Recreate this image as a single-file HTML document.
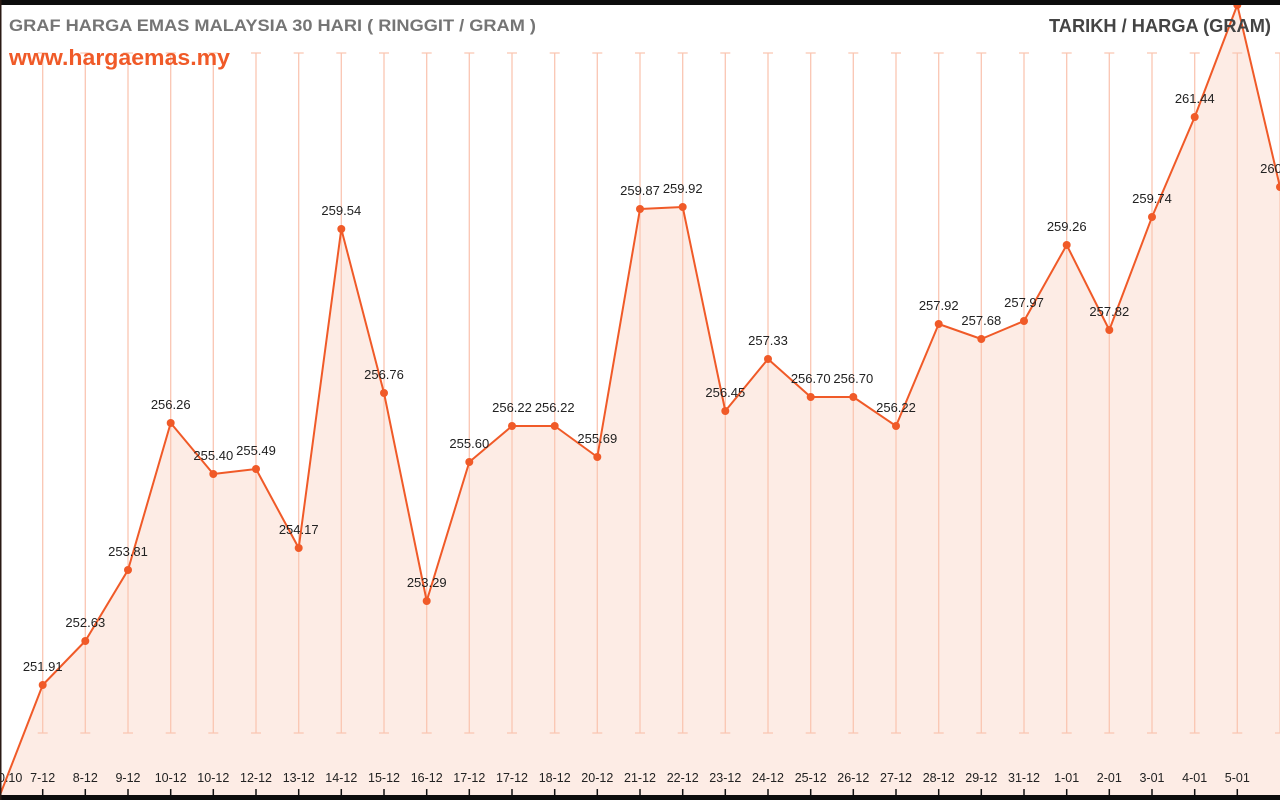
<!DOCTYPE html>
<html><head><meta charset="utf-8"><style>
html,body{margin:0;padding:0;background:#fff;}
svg{display:block;}
text{font-family:"Liberation Sans",Arial,sans-serif;}
</style></head><body>
<svg width="1280" height="800" viewBox="0 0 1280 800" xmlns="http://www.w3.org/2000/svg">
<rect width="1280" height="800" fill="#fff"/>
<polygon fill="#fdece5" points="0,795 0,795 42.7,685 85.3,641 128,570 170.7,423 213.3,474 256,469 298.7,548 341.3,229 384,393 426.7,601 469.3,462 512,426 554.7,426 597.3,457 640,209 682.7,207 725.3,411 768,359 810.7,397 853.3,397 896,426 938.7,324 981.3,339 1024,321 1066.7,245 1109.3,330 1152,217 1194.7,117 1237.3,5 1280,187 1280,795"/>
<g stroke="#fac6b2" stroke-width="1.3" fill="none">
<path d="M42.7 53V733M85.3 53V733M128 53V733M170.7 53V733M213.3 53V733M256 53V733M298.7 53V733M341.3 53V733M384 53V733M426.7 53V733M469.3 53V733M512 53V733M554.7 53V733M597.3 53V733M640 53V733M682.7 53V733M725.3 53V733M768 53V733M810.7 53V733M853.3 53V733M896 53V733M938.7 53V733M981.3 53V733M1024 53V733M1066.7 53V733M1109.3 53V733M1152 53V733M1194.7 53V733M1237.3 53V733M1280 53V733"/>
<path d="M37.7 53h10M80.3 53h10M123 53h10M165.7 53h10M208.3 53h10M251 53h10M293.7 53h10M336.3 53h10M379 53h10M421.7 53h10M464.3 53h10M507 53h10M549.7 53h10M592.3 53h10M635 53h10M677.7 53h10M720.3 53h10M763 53h10M805.7 53h10M848.3 53h10M891 53h10M933.7 53h10M976.3 53h10M1019 53h10M1061.7 53h10M1104.3 53h10M1147 53h10M1189.7 53h10M1232.3 53h10M1275 53h10"/>
<path d="M37.7 733h10M80.3 733h10M123 733h10M165.7 733h10M208.3 733h10M251 733h10M293.7 733h10M336.3 733h10M379 733h10M421.7 733h10M464.3 733h10M507 733h10M549.7 733h10M592.3 733h10M635 733h10M677.7 733h10M720.3 733h10M763 733h10M805.7 733h10M848.3 733h10M891 733h10M933.7 733h10M976.3 733h10M1019 733h10M1061.7 733h10M1104.3 733h10M1147 733h10M1189.7 733h10M1232.3 733h10M1275 733h10"/>
</g>
<polyline fill="none" stroke="#f05a28" stroke-width="2" stroke-linejoin="round" points="0,795 42.7,685 85.3,641 128,570 170.7,423 213.3,474 256,469 298.7,548 341.3,229 384,393 426.7,601 469.3,462 512,426 554.7,426 597.3,457 640,209 682.7,207 725.3,411 768,359 810.7,397 853.3,397 896,426 938.7,324 981.3,339 1024,321 1066.7,245 1109.3,330 1152,217 1194.7,117 1237.3,5 1280,187"/>
<g fill="#f05a28">
<circle cx="42.7" cy="685" r="4"/><circle cx="85.3" cy="641" r="4"/><circle cx="128" cy="570" r="4"/><circle cx="170.7" cy="423" r="4"/><circle cx="213.3" cy="474" r="4"/><circle cx="256" cy="469" r="4"/><circle cx="298.7" cy="548" r="4"/><circle cx="341.3" cy="229" r="4"/><circle cx="384" cy="393" r="4"/><circle cx="426.7" cy="601" r="4"/><circle cx="469.3" cy="462" r="4"/><circle cx="512" cy="426" r="4"/><circle cx="554.7" cy="426" r="4"/><circle cx="597.3" cy="457" r="4"/><circle cx="640" cy="209" r="4"/><circle cx="682.7" cy="207" r="4"/><circle cx="725.3" cy="411" r="4"/><circle cx="768" cy="359" r="4"/><circle cx="810.7" cy="397" r="4"/><circle cx="853.3" cy="397" r="4"/><circle cx="896" cy="426" r="4"/><circle cx="938.7" cy="324" r="4"/><circle cx="981.3" cy="339" r="4"/><circle cx="1024" cy="321" r="4"/><circle cx="1066.7" cy="245" r="4"/><circle cx="1109.3" cy="330" r="4"/><circle cx="1152" cy="217" r="4"/><circle cx="1194.7" cy="117" r="4"/><circle cx="1237.3" cy="5" r="4"/><circle cx="1280" cy="187" r="4"/>
</g>
<g font-size="13" fill="#222" text-anchor="middle">
<text x="42.7" y="671">251.91</text>
<text x="85.3" y="627">252.63</text>
<text x="128" y="556">253.81</text>
<text x="170.7" y="409">256.26</text>
<text x="213.3" y="460">255.40</text>
<text x="256" y="455">255.49</text>
<text x="298.7" y="534">254.17</text>
<text x="341.3" y="215">259.54</text>
<text x="384" y="379">256.76</text>
<text x="426.7" y="587">253.29</text>
<text x="469.3" y="448">255.60</text>
<text x="512" y="412">256.22</text>
<text x="554.7" y="412">256.22</text>
<text x="597.3" y="443">255.69</text>
<text x="640" y="195">259.87</text>
<text x="682.7" y="193">259.92</text>
<text x="725.3" y="397">256.45</text>
<text x="768" y="345">257.33</text>
<text x="810.7" y="383">256.70</text>
<text x="853.3" y="383">256.70</text>
<text x="896" y="412">256.22</text>
<text x="938.7" y="310">257.92</text>
<text x="981.3" y="325">257.68</text>
<text x="1024" y="307">257.97</text>
<text x="1066.7" y="231">259.26</text>
<text x="1109.3" y="316">257.82</text>
<text x="1152" y="203">259.74</text>
<text x="1194.7" y="103">261.44</text>
<text x="1280" y="173">260.26</text>
</g>
<g font-size="12.5" fill="#222" text-anchor="middle">
<text x="-2" y="782" text-anchor="start">0.10</text>
<text x="42.7" y="782">7-12</text>
<text x="85.3" y="782">8-12</text>
<text x="128" y="782">9-12</text>
<text x="170.7" y="782">10-12</text>
<text x="213.3" y="782">10-12</text>
<text x="256" y="782">12-12</text>
<text x="298.7" y="782">13-12</text>
<text x="341.3" y="782">14-12</text>
<text x="384" y="782">15-12</text>
<text x="426.7" y="782">16-12</text>
<text x="469.3" y="782">17-12</text>
<text x="512" y="782">17-12</text>
<text x="554.7" y="782">18-12</text>
<text x="597.3" y="782">20-12</text>
<text x="640" y="782">21-12</text>
<text x="682.7" y="782">22-12</text>
<text x="725.3" y="782">23-12</text>
<text x="768" y="782">24-12</text>
<text x="810.7" y="782">25-12</text>
<text x="853.3" y="782">26-12</text>
<text x="896" y="782">27-12</text>
<text x="938.7" y="782">28-12</text>
<text x="981.3" y="782">29-12</text>
<text x="1024" y="782">31-12</text>
<text x="1066.7" y="782">1-01</text>
<text x="1109.3" y="782">2-01</text>
<text x="1152" y="782">3-01</text>
<text x="1194.7" y="782">4-01</text>
<text x="1237.3" y="782">5-01</text>
</g>
<g stroke="#111" stroke-width="1.5">
<path d="M42.7 789V795M85.3 789V795M128 789V795M170.7 789V795M213.3 789V795M256 789V795M298.7 789V795M341.3 789V795M384 789V795M426.7 789V795M469.3 789V795M512 789V795M554.7 789V795M597.3 789V795M640 789V795M682.7 789V795M725.3 789V795M768 789V795M810.7 789V795M853.3 789V795M896 789V795M938.7 789V795M981.3 789V795M1024 789V795M1066.7 789V795M1109.3 789V795M1152 789V795M1194.7 789V795M1237.3 789V795"/>
</g>
<rect x="0" y="0" width="1280" height="5" fill="#0d0d0d"/>
<rect x="0" y="795" width="1280" height="5" fill="#0d0d0d"/>
<rect x="0" y="0" width="1.5" height="800" fill="#2a1a14"/>
<text x="9" y="31" font-size="17" font-weight="bold" fill="#757575" textLength="527" lengthAdjust="spacingAndGlyphs">GRAF HARGA EMAS MALAYSIA 30 HARI ( RINGGIT / GRAM )</text>
<text x="9" y="65" font-size="22" font-weight="bold" fill="#f05a28" textLength="221" lengthAdjust="spacingAndGlyphs">www.hargaemas.my</text>
<text x="1049" y="32" font-size="18" font-weight="bold" fill="#444" textLength="222" lengthAdjust="spacingAndGlyphs">TARIKH / HARGA (GRAM)</text>
</svg>
</body></html>
